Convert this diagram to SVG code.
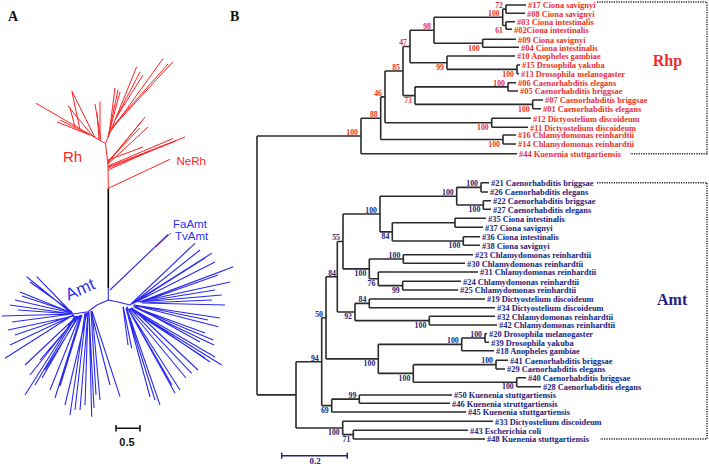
<svg xmlns="http://www.w3.org/2000/svg" width="709" height="464" viewBox="0 0 709 464">
<style>
.br{fill:none;stroke:#2b2b2b;stroke-width:1.6}
.dot{fill:none;stroke:#222;stroke-width:1.4;stroke-dasharray:1.2 1.2}
.lr{font:bold 8.4px "Liberation Serif",serif;fill:#e8312f}
.lb{font:bold 8.4px "Liberation Serif",serif;fill:#23237a}
.sr{font:bold 7.8px "Liberation Serif",serif;fill:#e8312f;text-anchor:end}
.sb{font:bold 7.8px "Liberation Serif",serif;fill:#23237a;text-anchor:end}
.pl{font:bold 14px "Liberation Serif",serif;fill:#111}
.ared{fill:none;stroke:#ff2222;stroke-width:1}
.ablue{fill:none;stroke:#2a2af0;stroke-width:1.1}
.sa{font:11.5px "Liberation Sans",sans-serif}
</style>
<rect width="709" height="464" fill="#fff"/>
<text class="pl" x="8" y="21">A</text>
<text class="pl" x="230" y="21">B</text>

<g id="panelA">
<path d="M108.3 188.3V288.3" fill="none" stroke="#000" stroke-width="1.6"/>
<path class="ared" d="M108.3 188.3L108 165L105.5 143.5M108.3 188.3L170 159.3M108 167L185 137M108 166L173 138.5M108.2 168L176 141M108 164L148 127M108 163L145 117M108 162L142 121M108 161L140 128M108 160L143 147M108 170L150 151M105.5 143.5L36 103.3M95 137.5L71.7 90.7M93 136.5L68 106M90 135L57 122M88 134L60 120M100 140L100 101.7M99 139L97 113M101 140L95 104M80 130L72 92M75 127L70 108M105.5 143.5L136.7 66.7M110 132L163.3 58.3M112 128L173 61.7M113 126L168 64M108 137L118 90M108 137L120 92M109 135L115 88M115 120L140 72M116 118L143 75M156 247L171 233"/>
<path class="ablue" d="M108.3 288.3V300M108.3 300L97 305L88 311.7L73.3 314M108.3 300L118 302L130 305M110 290L168 234.5
M130 305L195 243.3M131 304L190 248M132 304L200 250M133 303L211.7 253.3M134 303L205 258M136 302L215 262M140 301.7L233.3 266.7M140 302L225 270M142 302L218 275M140 302L221.7 295M141 302L215 290M142 303L212 300M143 303L225 305M133.3 305L218.3 326.7M134 305L220 318M135 305L208 320M133.3 306.7L213.3 340M134 307L205 333M134 307L214 345M130 308.3L221.7 365M131 308L215 357M131 308L210 362M130 309L205 358M130 308.3L191.7 373.3M129 309L186 378M126.7 306.7L180 390M127 307L175 393M127 307L172 385M126.7 308.3L160 405M126 308L155 400M126 308L150 397M123.3 306.7L131.7 348.3M123 307L128 345M136 302L198 262M138 302L230 282M135 306L200 342M132 308L198 370
M73.3 314L1.7 316M73 314L10 305M72 313L15 300M72 313L20 292M70 312L26.7 276.7M71 312L36.7 276.7M72 312L30 282M73 313L22 296M73 315L5 358.3M74 315L10 345M74 315L15 335M74 316L8 330M75 316L25 395M76 316L35 385M77 316L30 375M78 316L42 378M80 315L50 390M81 315L55 398M82 315L60 386M85 313L70 415M86 313L75 410M87 313L65 405M88 312L80 410M88 312L85 405M89 312L91.7 416.7M89 312L94 408M91 311.5L110 385M92 311L120 396.7M92 311L100 400M91 311L96 395M78 316L40 360M77 316L25 365M72 314L12 322M74 314L18 310M79 316L45 370"/>
<text class="sa" x="63" y="162" fill="#ff2222" style="font-size:15px">Rh</text>
<text class="sa" x="176.5" y="165" fill="#ff2222">NeRh</text>
<text class="sa" x="173" y="227.5" fill="#3030ee">FaAmt</text>
<text class="sa" x="175" y="240" fill="#3030ee">TvAmt</text>
<text class="sa" x="80" y="295" fill="#3030ee" text-anchor="middle" transform="rotate(-24 80 289)" style="font-size:17px">Amt</text>
<path d="M116 428.3H140M116 425V431.5M140 425V431.5" fill="none" stroke="#111" stroke-width="1.5"/>
<text class="sa" x="127" y="446" text-anchor="middle" fill="#111" style="font-size:11px;font-weight:bold">0.5</text>
</g>

<g id="connectors">
<path class="br" d="M506 5V13.3M506 5H526M506 13.3H525M506 21.7V29.3M506 21.7H515M506 29.3H512M502.7 9.15V25.5M502.7 9.15H506M502.7 25.5H506M482.7 39.3V47.3M482.7 39.3H516M482.7 47.3H519M434 17.3V43.3M434 17.3H502.7M434 43.3H482.7M517 65V73.7M517 65H520M517 73.7H519M447 56V69.35M447 56H515M447 69.35H517M410 30.3V62.7M410 30.3H434M410 62.7H447M508 82.7V91M508 82.7H516M508 91H518M532.7 100V108.7M532.7 100H543M532.7 108.7H541M415 86.85V104.35M415 86.85H508M415 104.35H532.7M403 46.5V95.6M403 46.5H410M403 95.6H415M491.7 118.3V127.3M491.7 118.3H531M491.7 127.3H528M385 71.05V122.8M385 71.05H403M385 122.8H491.7M503 135V144M503 135H516M503 144H516M380.7 96.9V139.5M380.7 96.9H385M380.7 139.5H503M361 118.2V153.7M361 118.2H380.7M361 153.7H517M257 136V394.85M257 136H361M257 394.85H296"/>
<path class="br" d="M481 182.7V192M481 182.7H489M481 192H488M483.3 200.7V209.3M483.3 200.7H491M483.3 209.3H491M456.7 187.35V205M456.7 187.35H481M456.7 205H483.3M455 218.3V227.3M455 218.3H486M455 227.3H483M463.3 236.7V245.3M463.3 236.7H480M463.3 245.3H480M392.3 222.8V241M392.3 222.8H455M392.3 241H463.3M380 196.2V231.9M380 196.2H456.7M380 231.9H392.3M403.3 254.7V263.3M403.3 254.7H473M403.3 263.3H465M402.7 281.3V290M402.7 281.3H461M402.7 290H458M378.3 272V285.65M378.3 272H478M378.3 285.65H402.7M369.3 259V278.8M369.3 259H403.3M369.3 278.8H378.3M343 214V268.9M343 214H380M343 268.9H369.3M369.3 299V307.7M369.3 299H485M369.3 307.7H495M429.3 316.3V325M429.3 316.3H495M429.3 325H497M355 303.35V320.65M355 303.35H369.3M355 320.65H429.3M337.3 241.5V312M337.3 241.5H343M337.3 312H355M485 333.7V342.3M485 333.7H487M485 342.3H489M461.7 338V350.7M461.7 338H485M461.7 350.7H494M496 360.3V369M496 360.3H508M496 369H505M516.7 377.7V386.7M516.7 377.7H526M516.7 386.7H541M413.3 364.65V382.2M413.3 364.65H496M413.3 382.2H516.7M378.3 344.35V373.4M378.3 344.35H461.7M378.3 373.4H413.3M326 276.7V358.9M326 276.7H337.3M326 358.9H378.3M359.3 395V403.3M359.3 395H452M359.3 403.3H450M331.7 399.15V412M331.7 399.15H359.3M331.7 412H466M321.7 317.8V405.6M321.7 317.8H326M321.7 405.6H331.7M353.3 430.3V439M353.3 430.3H468M353.3 439H485M342.7 421.3V434.65M342.7 421.3H493M342.7 434.65H353.3M296 361.7V428M296 361.7H321.7M296 428H342.7"/>
<path class="dot" d="M597 2H707V153.7H630M597 182.7H707V439H600"/>
<path d="M281.7 455.7H347.3M281.7 452.7V458.7M347.3 452.7V458.7" fill="none" stroke="#23237a" stroke-width="1.5"/>
</g>

<g id="support">
<text class="sr" x="503" y="8">72</text>
<text class="sr" x="499.7" y="16.1">100</text>
<text class="sr" x="503" y="32.7">61</text>
<text class="sr" x="431" y="29.1">98</text>
<text class="sr" x="479.7" y="50.5">100</text>
<text class="sr" x="407" y="45.3">47</text>
<text class="sr" x="444" y="69.9">99</text>
<text class="sr" x="514" y="76.5">100</text>
<text class="sr" x="400" y="69.8">85</text>
<text class="sr" x="505" y="85.6">100</text>
<text class="sr" x="412" y="102.8">73</text>
<text class="sr" x="382" y="95.7">46</text>
<text class="sr" x="529.7" y="111.5">100</text>
<text class="sr" x="488.7" y="130">100</text>
<text class="sr" x="377.7" y="117">88</text>
<text class="sr" x="500" y="146.7">100</text>
<text class="sr" x="358" y="134.8">100</text>

<text class="sb" x="478" y="186.1">100</text>
<text class="sb" x="480.3" y="212.2">100</text>
<text class="sb" x="453.7" y="195">100</text>
<text class="sb" x="377" y="212.8">100</text>
<text class="sb" x="389.3" y="239.1">84</text>
<text class="sb" x="460.3" y="248.2">100</text>
<text class="sb" x="340" y="240.3">55</text>
<text class="sb" x="400.3" y="257.8">100</text>
<text class="sb" x="366.3" y="276.1">100</text>
<text class="sb" x="336" y="275.5">84</text>
<text class="sb" x="375.3" y="286">76</text>
<text class="sb" x="399.7" y="292.8">99</text>
<text class="sb" x="366.3" y="302.1">84</text>
<text class="sb" x="323" y="316.6">50</text>
<text class="sb" x="352" y="319.2">92</text>
<text class="sb" x="426.3" y="327.8">100</text>
<text class="sb" x="482" y="336.8">100</text>
<text class="sb" x="458.7" y="343.1">100</text>
<text class="sb" x="318.7" y="360.5">94</text>
<text class="sb" x="493" y="363.4">100</text>
<text class="sb" x="375.3" y="366.1">100</text>
<text class="sb" x="410.3" y="380.6">100</text>
<text class="sb" x="513.7" y="389.4">100</text>
<text class="sb" x="356.3" y="397.9">99</text>
<text class="sb" x="328.7" y="412.8">69</text>
<text class="sb" x="339.7" y="435.2">100</text>
<text class="sb" x="350.3" y="441.8">71</text>
<text x="315" y="463.5" text-anchor="middle" style="font:bold 9px 'Liberation Serif',serif;fill:#23237a">0.2</text>
</g>

<g id="rhp-leaves">
<text id="n17" class="lr" x="528" y="8.2">#17 Ciona savignyi</text>
<text id="n08" class="lr" x="527" y="16.5">#08 Ciona savignyi</text>
<text id="n03" class="lr" x="517" y="24.9">#03 Ciona intestinalis</text>
<text id="n02" class="lr" x="514" y="32.5">#02Ciona intestinalis</text>
<text id="n09" class="lr" x="518" y="42.5">#09 Ciona savignyi</text>
<text id="n04" class="lr" x="521" y="50.5">#04 Ciona intestinalis</text>
<text id="n10" class="lr" x="517" y="59.2">#10 Anopheles gambiae</text>
<text id="n15" class="lr" x="522" y="68.2">#15 Drosophila yakuba</text>
<text id="n13" class="lr" x="521" y="76.9">#13 Drosophila melanogaster</text>
<text id="n06" class="lr" x="518" y="85.9">#06 Caenorhabditis elegans</text>
<text id="n05" class="lr" x="520" y="94.2">#05 Caenorhabditis briggsae</text>
<text id="n07" class="lr" x="545" y="103.2">#07 Caenorhabditis briggsae</text>
<text id="n01" class="lr" x="543" y="111.9">#01 Caenorhabditis elegans</text>
<text id="n12" class="lr" x="533" y="121.5">#12 Dictyostelium discoideum</text>
<text id="n11" class="lr" x="530" y="130.5">#11 Dictyostelium discoideum</text>
<text id="n16" class="lr" x="518" y="138.2">#16 Chlamydomonas reinhardtii</text>
<text id="n14" class="lr" x="518" y="147.2">#14 Chlamydomonas reinhardtii</text>
<text id="n44" class="lr" x="519" y="156.9">#44 Kuenenia stuttgartiensis</text>
<text id="rhp" x="652.7" y="66" style="font:bold 16px 'Liberation Serif',serif;fill:#e8312f">Rhp</text>
</g>

<g id="amt-leaves">
<text id="n21" class="lb" x="491" y="185.9">#21 Caenorhabditis briggsae</text>
<text id="n26" class="lb" x="490" y="195.2">#26 Caenorhabditis elegans</text>
<text id="n22" class="lb" x="493" y="203.9">#22 Caenorhabditis briggsae</text>
<text id="n27" class="lb" x="493" y="212.5">#27 Caenorhabditis elegans</text>
<text id="n35" class="lb" x="488" y="221.5">#35  Ciona intestinalis</text>
<text id="n37" class="lb" x="485" y="230.5">#37 Ciona savignyi</text>
<text id="n36" class="lb" x="482" y="239.9">#36 Ciona intestinalis</text>
<text id="n38" class="lb" x="482" y="248.5">#38 Ciona savignyi</text>
<text id="n23" class="lb" x="475" y="257.9">#23 Chlamydomonas reinhardtii</text>
<text id="n30" class="lb" x="467" y="266.5">#30 Chlamydomonas reinhardtii</text>
<text id="n31" class="lb" x="480" y="275.2">#31 Chlamydomonas reinhardtii</text>
<text id="n24" class="lb" x="463" y="284.5">#24 Chlamydomonas reinhardtii</text>
<text id="n25" class="lb" x="460" y="293.2">#25 Chlamydomonas reinhardtii</text>
<text id="n19" class="lb" x="487" y="302.2">#19 Dictyostelium discoideum</text>
<text id="n34" class="lb" x="497" y="310.9">#34 Dictyostelium discoideum</text>
<text id="n32" class="lb" x="497" y="319.5">#32 Chlamydomonas reinhardtii</text>
<text id="n42" class="lb" x="499" y="328.2">#42 Chlamydomonas reinhardtii</text>
<text id="n20" class="lb" x="489" y="336.9">#20 Drosophila melanogaster</text>
<text id="n39" class="lb" x="491" y="345.5">#39 Drosophila yakuba</text>
<text id="n18" class="lb" x="496" y="353.9">#18 Anopheles gambiae</text>
<text id="n41" class="lb" x="510" y="363.5">#41 Caenorhabditis briggsae</text>
<text id="n29" class="lb" x="507" y="372.2">#29 Caenorhabditis elegans</text>
<text id="n40" class="lb" x="528" y="380.9">#40 Caenorhabditis briggsae</text>
<text id="n28" class="lb" x="543" y="389.9">#28 Caenorhabditis elegans</text>
<text id="n50" class="lb" x="454" y="398.2">#50 Kuenenia stuttgartiensis</text>
<text id="n46" class="lb" x="452" y="406.5">#46 Kuenenia struttgartiensis</text>
<text id="n45" class="lb" x="468" y="415.2">#45 Kuenenia stuttgartiensis</text>
<text id="n33" class="lb" x="495" y="424.5">#33 Dictyostelium discoideum</text>
<text id="n43" class="lb" x="470" y="433.5">#43 Escherichia coli</text>
<text id="n48" class="lb" x="487" y="442.2">#48 Kuenenia stuttgartiensis</text>
<text id="amt" x="657" y="305" style="font:bold 16px 'Liberation Serif',serif;fill:#23237a">Amt</text>
</g>
</svg>
